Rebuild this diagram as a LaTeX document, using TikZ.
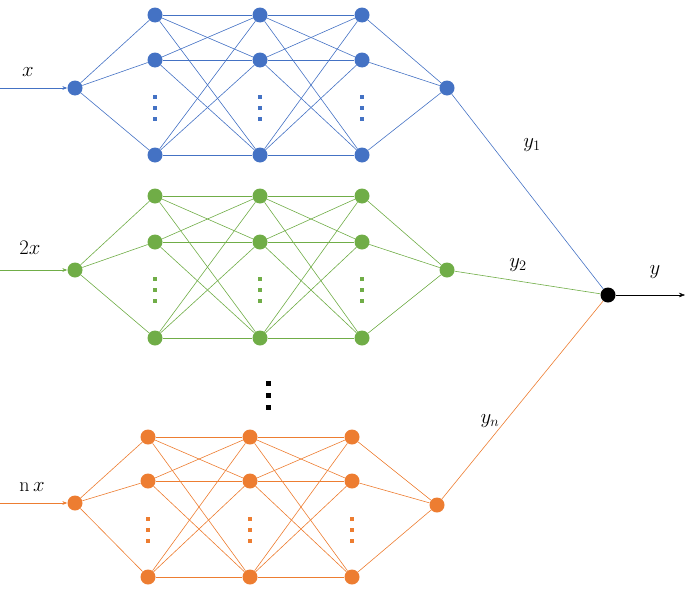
\documentclass[tikz,border=0pt]{standalone}
\usetikzlibrary{arrows.meta}
\definecolor{nblue}{HTML}{4472C4}
\definecolor{ngreen}{HTML}{70AD47}
\definecolor{norange}{HTML}{ED7D31}
\begin{document}
\begin{tikzpicture}[x=1pt,y=-1pt,
  neu/.style={circle,fill=#1,minimum size=15pt,inner sep=0pt},
  lnk/.style={draw=#1,line width=0.6pt},
  lab/.style={font=\fontsize{20}{24}\selectfont,inner sep=1pt},
  dot/.style={fill=#1,draw=none,minimum width=3.5pt,minimum height=4pt,inner sep=0pt}]
\useasboundingbox (0,0) rectangle (685,589);
\foreach \n/\c/\iy/\xa/\xb/\xc/\ra/\rb/\rc/\dy/\ox/\oy in
  {a/nblue/88/155/260/362/15/60/155/108/447/88,
   b/ngreen/270/155/260/362/196/242/338/290/447/270,
   c/norange/503/148/250/352/437/481/577/530/437/505}{
  \node[neu=\c] (\n-in) at (75,\iy) {};
  \coordinate (\n-src) at (0,\iy);
  \draw[lnk=\c,-{Stealth[length=5pt]}] (\n-src) -- (\n-in);
  \foreach \l/\lx in {1/\xa,2/\xb,3/\xc}{
    \node[neu=\c] (\n-\l-1) at (\lx,\ra) {};
    \node[neu=\c] (\n-\l-2) at (\lx,\rb) {};
    \node[neu=\c] (\n-\l-3) at (\lx,\rc) {};
    \foreach \k in {-11,0,11}
      \path[fill=\c] (\lx-1.8,\dy+\k-2) rectangle (\lx+1.8,\dy+\k+2);
  }
  \node[neu=\c] (\n-out) at (\ox,\oy) {};
  \foreach \i in {1,2,3}{
    \draw[lnk=\c] (\n-in) -- (\n-1-\i);
    \draw[lnk=\c] (\n-3-\i) -- (\n-out);
    \foreach \j in {1,2,3}{
      \draw[lnk=\c] (\n-1-\i) -- (\n-2-\j);
      \draw[lnk=\c] (\n-2-\i) -- (\n-3-\j);
    }
  }
}
\node[neu=black] (sum) at (608,295) {};
\coordinate (yend) at (685,295);
\draw[-{Stealth[length=6pt]}] (sum) -- (yend);
\draw[lnk=nblue] (a-out) -- (sum);
\draw[lnk=ngreen] (b-out) -- (sum);
\draw[lnk=norange] (c-out) -- (sum);
\node[lab] (ly) at (655,272) {$y$};
\node[lab] (ly1) at (532,145) {$y_1$};
\node[lab] (ly2) at (518,265) {$y_2$};
\node[lab] (lyn) at (490,421) {$y_n$};
\node[lab] (lx) at (28,72) {$x$};
\node[lab] (l2x) at (30,248) {$2x$};
\node[lab] (lnx) at (32,487) {n\,$x$};
\foreach \k in {-12,0,12}
  \path[fill=black] (266,395+\k-2.5) rectangle (270.5,395+\k+2.5);
\end{tikzpicture}
\end{document}
